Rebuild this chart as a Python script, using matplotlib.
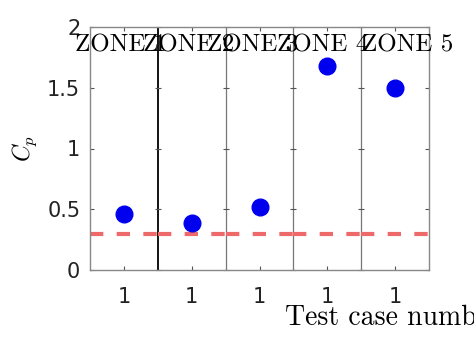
import matplotlib
matplotlib.use("Agg")
import matplotlib.pyplot as plt

# datos
zonas = ["ZONE 1", "ZONE 2", "ZONE 3", "ZONE 4", "ZONE 5"]
casos = [1, 1, 1, 1, 1]
cp = [0.46, 0.385, 0.515, 1.68, 1.50]
cp_limite = 0.3
yticks = [0, 0.5, 1, 1.5, 2]
ytick_labels = ["0", "0.5", "1", "1.5", "2"]

plt.rcParams["mathtext.fontset"] = "cm"

fig = plt.figure(figsize=(4.74, 3.55), dpi=100)
ax = fig.add_axes([90 / 474, 85 / 355, 339 / 474, 243 / 355])

x = list(range(1, len(zonas) + 1))

# lineas de separacion entre zonas
for i in x[:-1]:
    if i == 1:
        ax.axvline(i + 0.5, color="black", lw=1.3, zorder=1)
    else:
        ax.axvline(i + 0.5, color="#777777", lw=0.9, zorder=1)
    # marcas de ticks en cada separacion
    ax.plot([i + 0.5] * len(yticks), yticks, "_", color="#555555",
            markersize=5, markeredgewidth=0.8, zorder=1, clip_on=False)

# limite de Cp (una linea por zona, como subplots)
for i in x:
    ax.plot([i - 0.5, i + 0.5], [cp_limite, cp_limite], color="#ee6a6a",
            lw=3, linestyle=(0, (3.2, 3.2)), zorder=2, solid_capstyle="butt")

ax.plot(x, cp, "o", color="#0000ee", markersize=12, zorder=3)

# titulos de zonas (se solapan como en el original)
desloc = [-0.22, -0.22, -0.28, -0.24, 0.01]
for i, nome in enumerate(zonas):
    ax.text(x[i] - 0.5 + desloc[i], 1.795, nome, ha="left", va="baseline",
            fontfamily="cmr10", fontsize=18, zorder=4)

ax.set_xlim(0.5, len(zonas) + 0.5)
ax.set_ylim(0, 2)
ax.set_xticks(x)
ax.set_xticklabels([str(c) for c in casos])
ax.set_yticks(yticks)
ax.set_yticklabels(ytick_labels)
ax.tick_params(direction="in", length=3, width=0.8, color="#555555",
               labelsize=15, labelcolor="#222222", top=True, right=True)
ax.tick_params(axis="x", pad=12)
ax.tick_params(axis="y", pad=7)
for s in ax.spines.values():
    s.set_color("#888888")
    s.set_linewidth(1)

ax.set_ylabel("$C_p$", fontsize=17)
ax.yaxis.set_label_coords(-0.15, 0.5)

# etiqueta del eje x (cortada por el borde, como en el original)
fig.text(285 / 474, 30 / 355, "Test case number", fontfamily="cmr10",
         fontsize=20, ha="left", va="baseline")

fig.savefig("out.png", dpi=100)
